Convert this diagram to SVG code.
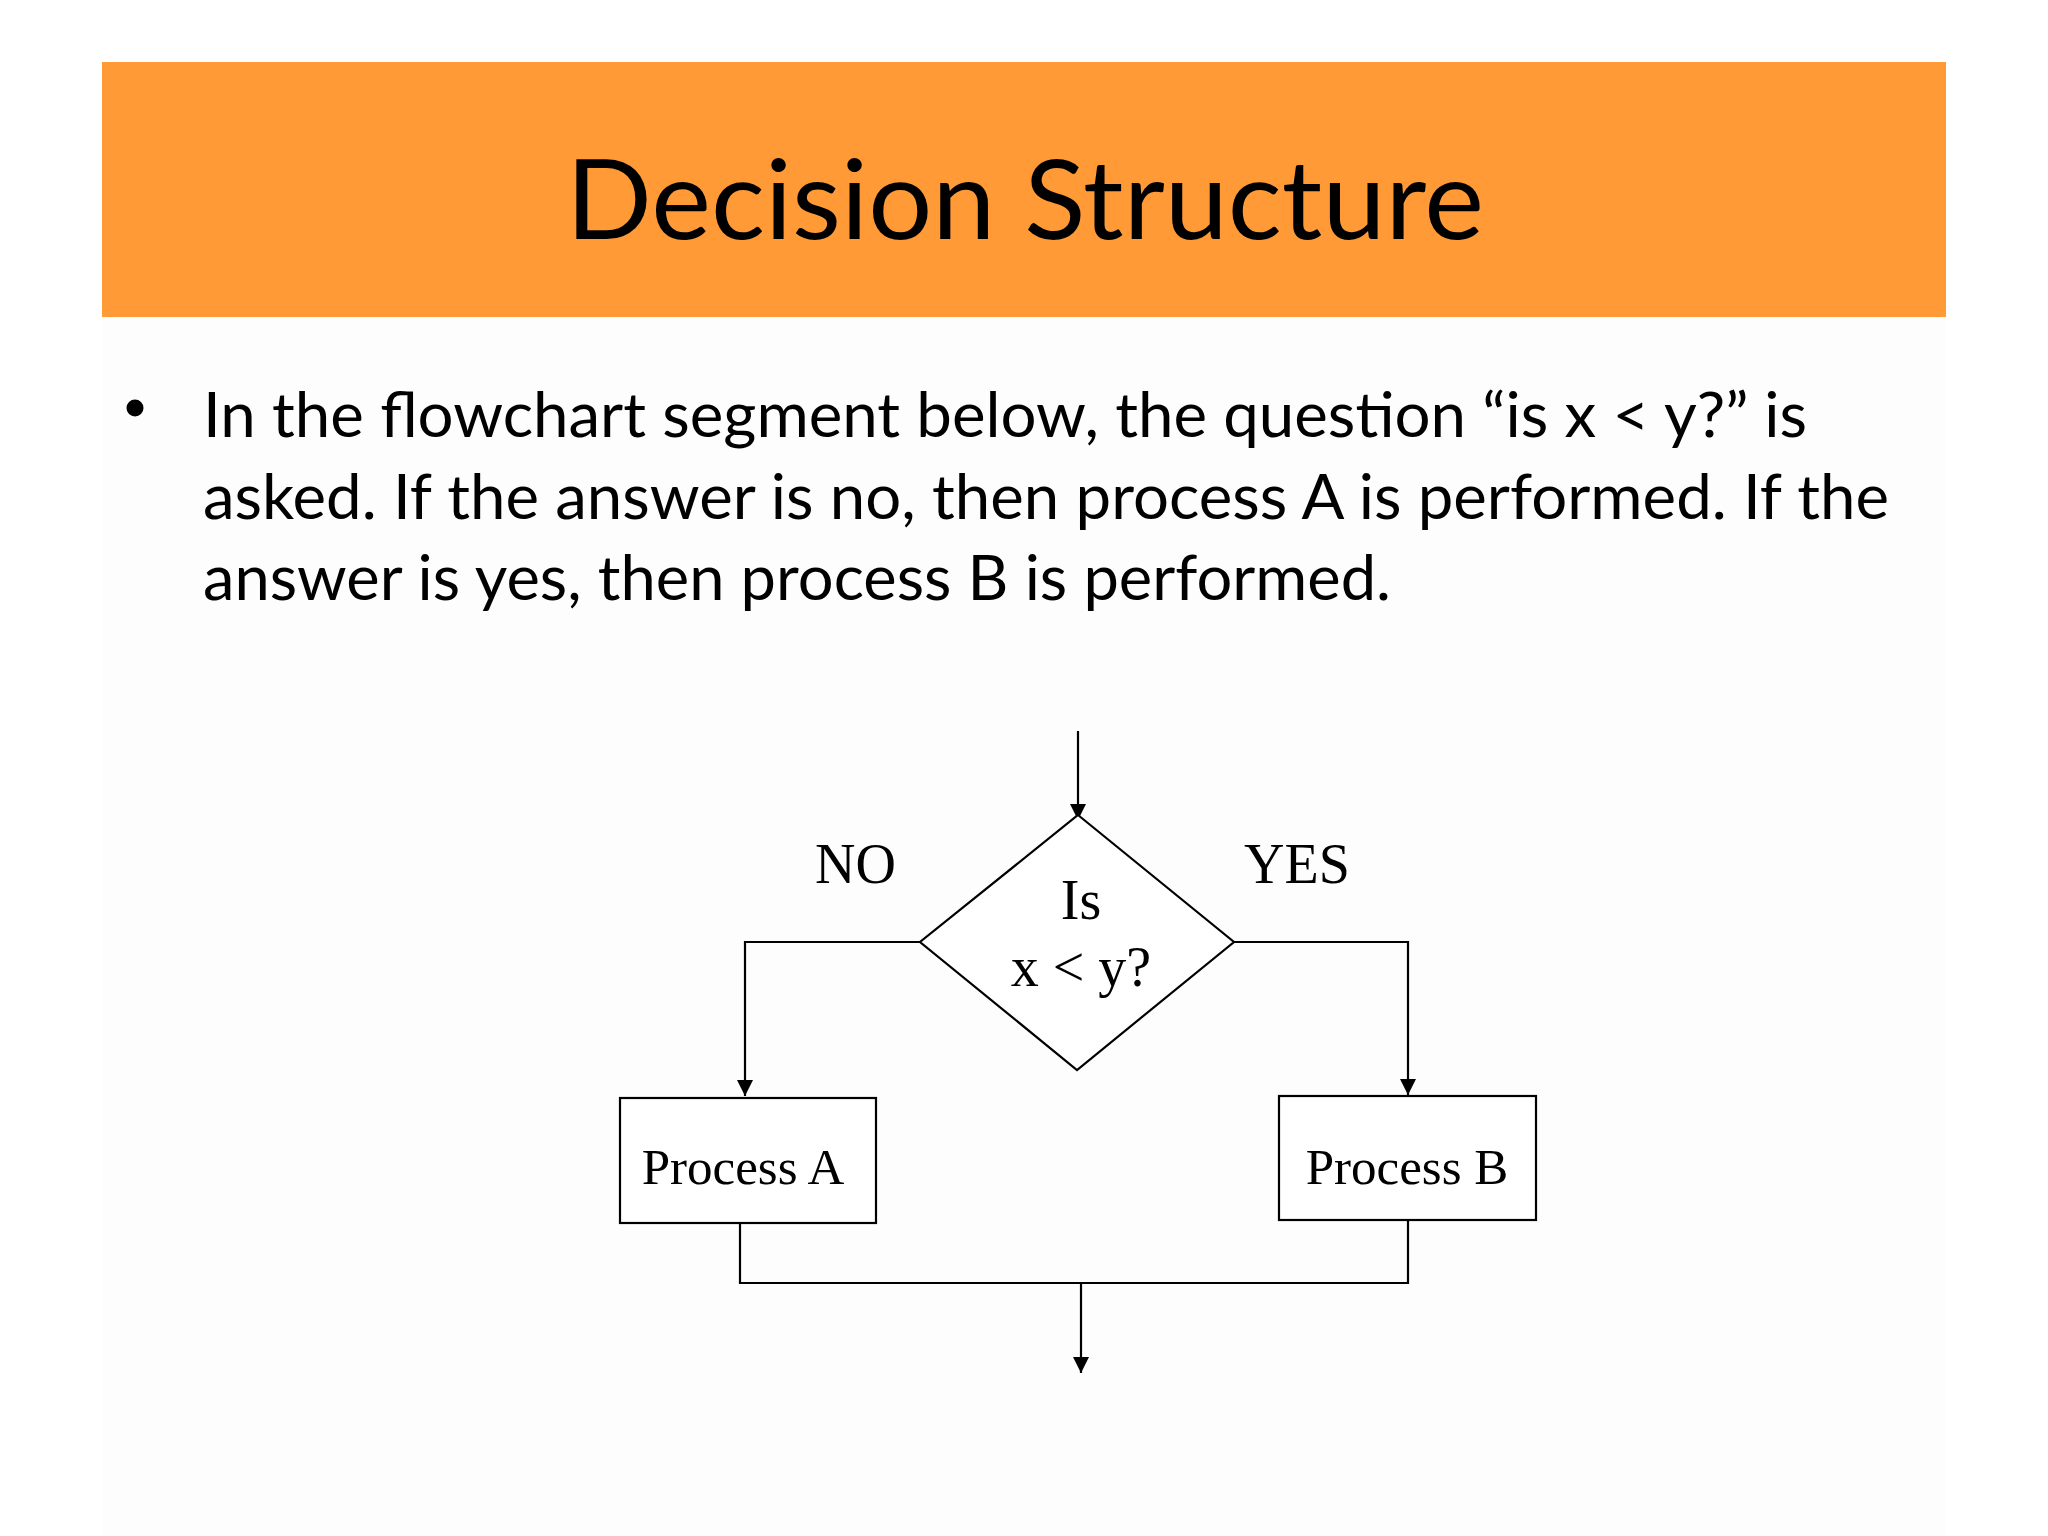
<svg xmlns="http://www.w3.org/2000/svg" width="2048" height="1536" viewBox="0 0 2048 1536">
  <defs>
    <style>
      .title { font-family: Lato, "Open Sans", "Liberation Sans", sans-serif; font-size: 111px; fill: #000; }
      .body { font-family: Lato, "Open Sans", "Liberation Sans", sans-serif; font-size: 62px; fill: #000; }
      .lbl { font-family: "Liberation Serif", "Times New Roman", serif; font-size: 56px; fill: #000; }
      .proc { font-family: "Liberation Serif", "Times New Roman", serif; font-size: 51px; fill: #000; }
      .shape { fill: #fff; stroke: #000; stroke-width: 2.2; }
      .conn { fill: none; stroke: #000; stroke-width: 2.2; }
    </style>
    <marker id="arrow" markerUnits="userSpaceOnUse" markerWidth="18" markerHeight="18" viewBox="0 0 18 18" refX="16" refY="9" orient="auto">
      <path d="M0,1 L16,9 L0,17 Z" fill="#000"/>
    </marker>
  </defs>

  <rect x="0" y="0" width="2048" height="1536" fill="#ffffff"/>
  <rect x="102" y="317" width="1844" height="1219" fill="#fdfdfd"/>

  <g id="header">
    <rect x="102" y="62" width="1844" height="255" fill="#ff9a37"/>
    <text class="title" x="566" y="239" textLength="918" lengthAdjust="spacingAndGlyphs">Decision Structure</text>
  </g>

  <g id="bullet-text">
    <circle cx="135" cy="408" r="8.5" fill="#000"/>
    <text class="body" x="203" y="437" textLength="1604" lengthAdjust="spacingAndGlyphs">In the flowchart segment below, the question “is x &lt; y?” is</text>
    <text class="body" x="203" y="519" textLength="1686" lengthAdjust="spacingAndGlyphs">asked. If the answer is no, then process A is performed. If the</text>
    <text class="body" x="203" y="600" textLength="1188" lengthAdjust="spacingAndGlyphs">answer is yes, then process B is performed.</text>
  </g>

  <g id="connectors">
    <line class="conn" x1="1078" y1="731" x2="1078" y2="820" marker-end="url(#arrow)"/>
    <polyline class="conn" points="920,942 745,942 745,1096" marker-end="url(#arrow)"/>
    <polyline class="conn" points="1233,942 1408,942 1408,1095" marker-end="url(#arrow)"/>
    <polyline class="conn" points="740,1223 740,1283 1408,1283 1408,1221"/>
    <line class="conn" x1="1081" y1="1283" x2="1081" y2="1373" marker-end="url(#arrow)"/>
  </g>

  <g id="decision">
    <polygon class="shape" points="1078,815 1234,942 1077,1070 920,942"/>
    <text class="lbl" x="1081" y="919" text-anchor="middle">Is</text>
    <text class="lbl" x="1081" y="986" text-anchor="middle">x &lt; y?</text>
  </g>

  <g id="label-no">
    <text class="lbl" x="815" y="883">NO</text>
  </g>
  <g id="label-yes">
    <text class="lbl" x="1244" y="883">YES</text>
  </g>

  <g id="process-a">
    <rect class="shape" x="620" y="1098" width="256" height="125"/>
    <text class="proc" x="743" y="1184" text-anchor="middle">Process A</text>
  </g>

  <g id="process-b">
    <rect class="shape" x="1279" y="1096" width="257" height="124"/>
    <text class="proc" x="1407" y="1184" text-anchor="middle">Process B</text>
  </g>
</svg>
